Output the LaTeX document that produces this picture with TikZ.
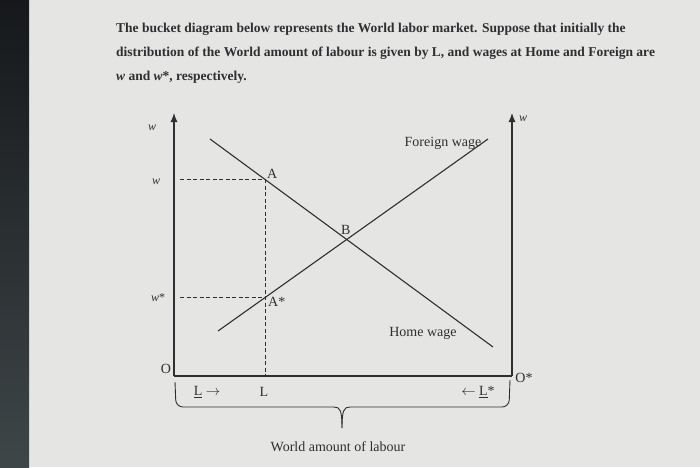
\documentclass[tikz,border=0pt]{standalone}
\usepackage{fontspec}
\setmainfont{Liberation Serif}
\usepackage{tikz}
\usetikzlibrary{calc}
\usetikzlibrary{intersections}
\usetikzlibrary{arrows.meta}
\definecolor{bucket-bg}{RGB}{229, 230, 227}
\definecolor{bucket-ink}{RGB}{45, 47, 50}
\definecolor{bezel-top}{RGB}{22, 24, 27}
\definecolor{bezel-bot}{RGB}{62, 70, 72}

\begin{document}
\begin{tikzpicture}[x=1pt, y=-1pt,
    every node/.style={text=bucket-ink, inner sep=0pt, font=\fontsize{14}{16}\selectfont},
    titleline/.style={anchor=base west, font=\bfseries\fontsize{13.5}{16}\selectfont},
    curve/.style={bucket-ink, line width=1.1pt},
    guide/.style={bucket-ink, line width=0.9pt, dash pattern=on 4pt off 2.5pt}]
          \useasboundingbox (0, 0) rectangle (700, 467);
          \fill[bucket-bg] (0, 0) rectangle (700, 467);
          \shade[top color=bezel-top, bottom color=bezel-bot] (0, 0) rectangle (29, 467);

          \node[titleline] (title1) at (116, 32) {The bucket diagram below represents the World labor market. Suppose that initially the};
          \node[titleline] (title2) at (116, 56) {distribution of the World amount of labour is given by L, and wages at Home and Foreign are};
          \node[titleline] (title3) at (116, 80) {\itshape w\upshape{} and \itshape w\upshape*, respectively.};

          \coordinate (origin) at (174, 376);
          \coordinate (ostar) at (512, 376);
          \coordinate (wtop) at (174, 113);
          \coordinate (wstartop) at (512, 113);
          \coordinate (home1) at (210, 139);
          \coordinate (home2) at (493, 347);
          \coordinate (foreign1) at (218, 331);
          \coordinate (foreign2) at (488, 139);
          \coordinate (pA) at (265, 179.5);
          \coordinate (pAstar) at (265, 297.5);
          \coordinate (pL) at (265, 376);
          \coordinate (wtick) at (180, 179.5);
          \coordinate (wstartick) at (180, 297.5);

          % box and axes
          \draw[curve, -{Latex[length=9pt, width=7pt]}] (origin) -- (wtop);
          \draw[curve, -{Latex[length=9pt, width=7pt]}] (ostar) -- (wstartop);
          \draw[curve] (origin) -- (ostar);

          % wage lines
          \draw[curve, name path=home] (home1) -- (home2);
          \draw[curve, name path=foreign] (foreign1) -- (foreign2);
          \path[name intersections={of=home and foreign, by=pB}];

          \draw[guide] (wtick) -- (pA) -- (pL);
          \draw[guide] (wstartick) -- (pAstar);

          \node (wlabel) at (152, 128) {\itshape\fontsize{12}{14}\selectfont w};
          \node (wstarlabel) at (523, 119) {\itshape\fontsize{12}{14}\selectfont w};
          \node (whome) at (156, 182) {\itshape\fontsize{12}{14}\selectfont w};
          \node (wforeign) at (158, 298) {\itshape\fontsize{12}{14}\selectfont w\upshape*};
          \node[anchor=south west] (lblA) at ($(pA)+(2, -1)$) {A};
          \node[anchor=north west] (lblAstar) at ($(pAstar)+(3, 0)$) {A*};
          \node[anchor=south] (lblB) at ($(pB)+(-1, -5)$) {B};
          \node (lblforeign) at (443, 143) {Foreign wage};
          \node (lblhome) at (423, 333) {Home wage};
          \node (lblO) at (166, 369) {O};
          \node (lblOstar) at (524, 378) {O*};
          \node (lblLhome) at (207, 392) {\underline{L} $\rightarrow$};
          \node (lblL) at (264, 392) {L};
          \node (lblLforeign) at (478, 392) {$\leftarrow$ \underline{L}*};

          % brace under the box
          \coordinate (bleft) at (175, 382);
          \coordinate (bright) at (510, 380);
          \coordinate (btip) at (342, 428);
          \draw[bucket-ink, line width=0.9pt, rounded corners=7pt] (bleft) -- (176, 407) -- (334, 407);
          \draw[bucket-ink, line width=0.9pt, rounded corners=7pt] (bright) -- (509, 407) -- (350, 407);
          \draw[bucket-ink, line width=0.9pt] (334, 407) .. controls (340, 407) and (342, 410) .. (btip);
          \draw[bucket-ink, line width=0.9pt] (350, 407) .. controls (344, 407) and (342, 410) .. (btip);
          \node (lblworld) at (338, 447) {World amount of labour};
        \end{tikzpicture}
\end{document}
